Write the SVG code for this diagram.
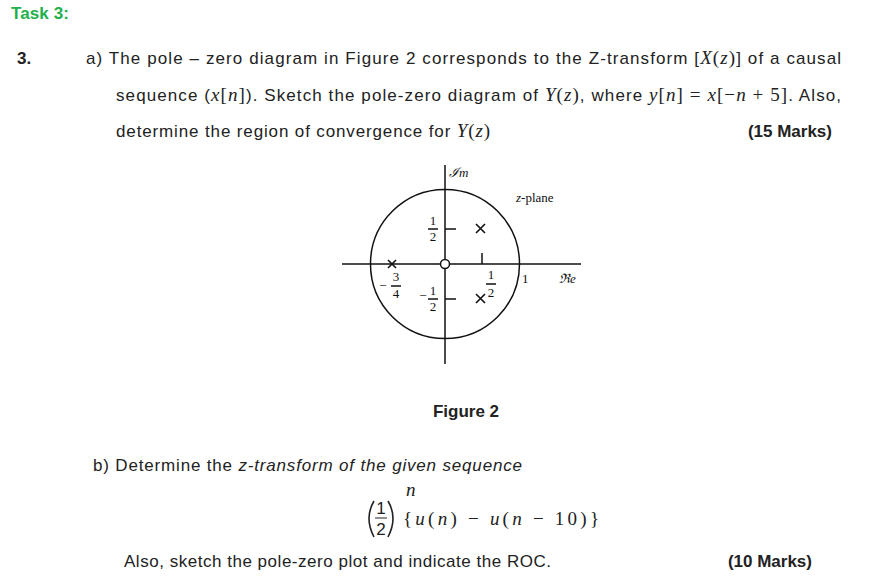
<svg xmlns="http://www.w3.org/2000/svg" width="884" height="586" viewBox="0 0 884 586">
<style>
.t{font-family:"Liberation Sans",Arial,sans-serif;font-size:17px;fill:#222}
.b{font-weight:bold}
.m{font-family:"Liberation Serif","Times New Roman",serif;font-size:19px;fill:#222}
.f{font-family:"Liberation Serif","Times New Roman",serif;font-size:13px;fill:#111}
.ln{stroke:#111;stroke-width:1.5;fill:none}
</style>
<rect width="884" height="586" fill="#fff"/>
<text x="11" y="19" class="t b" style="fill:#22b04c" textLength="58" lengthAdjust="spacing">Task 3:</text>
<text x="17" y="64" class="t b">3.</text>
<g id="text-a">
<text x="86" y="64" class="t" textLength="755" lengthAdjust="spacing">a)  The pole – zero diagram in Figure 2 corresponds to the Z-transform [<tspan class="m" font-style="italic">X</tspan><tspan class="m">(</tspan><tspan class="m" font-style="italic">z</tspan><tspan class="m">)</tspan>] of a causal</text>
<text x="116" y="101" class="t" textLength="725" lengthAdjust="spacing">sequence (<tspan class="m" font-style="italic">x</tspan><tspan class="m">[</tspan><tspan class="m" font-style="italic">n</tspan><tspan class="m">]</tspan>). Sketch the pole-zero diagram of <tspan class="m" font-style="italic">Y</tspan><tspan class="m">(</tspan><tspan class="m" font-style="italic">z</tspan><tspan class="m">)</tspan>, where <tspan class="m" font-style="italic">y</tspan><tspan class="m">[</tspan><tspan class="m" font-style="italic">n</tspan><tspan class="m">] = </tspan><tspan class="m" font-style="italic">x</tspan><tspan class="m">[−</tspan><tspan class="m" font-style="italic">n</tspan><tspan class="m"> + 5]</tspan>. Also,</text>
<text x="116" y="137" class="t" textLength="374" lengthAdjust="spacing">determine the region of convergence for <tspan class="m" font-style="italic">Y</tspan><tspan class="m">(</tspan><tspan class="m" font-style="italic">z</tspan><tspan class="m">)</tspan></text>
<text x="832" y="137" class="t b" text-anchor="end">(15 Marks)</text>
</g>
<g id="figure">
<line class="ln" x1="342" y1="264" x2="581" y2="264"/>
<line class="ln" x1="445" y1="165" x2="445" y2="364"/>
<circle class="ln" cx="445" cy="264" r="74.5"/>
<line class="ln" x1="445" y1="229" x2="456" y2="229"/>
<line class="ln" x1="445" y1="299" x2="456" y2="299"/>
<line class="ln" x1="482" y1="253" x2="482" y2="264"/>
<circle cx="445" cy="264" r="4.5" fill="#fff" stroke="#111" stroke-width="1.5"/>
<g stroke="#111" stroke-width="1.6">
<path d="M476 224l9 9M485 224l-9 9"/>
<path d="M476 294l9 9M485 294l-9 9"/>
<path d="M388 260l8 8M396 260l-8 8"/>
</g>
<text x="449" y="177" class="f" font-style="italic" font-size="16">ℐm</text>
<text x="516" y="202" class="f" font-size="16"><tspan font-style="italic">z</tspan>-plane</text>
<text x="559" y="283" class="f" font-style="italic" font-size="16">ℜe</text>
<text x="522" y="283" class="f" font-size="15">1</text>
<g class="f" text-anchor="middle">
<text x="433" y="225">1</text><line class="ln" stroke-width="1" x1="428" y1="229" x2="438" y2="229"/><text x="433" y="241">2</text>
<text x="433" y="295">1</text><line class="ln" stroke-width="1" x1="428" y1="299" x2="438" y2="299"/><text x="433" y="311">2</text>
<text x="423" y="300">−</text>
<text x="396" y="281">3</text><line class="ln" stroke-width="1" x1="391" y1="286" x2="401" y2="286"/><text x="396" y="298">4</text>
<text x="383" y="290">−</text>
<text x="491" y="279">1</text><line class="ln" stroke-width="1" x1="486" y1="284" x2="496" y2="284"/><text x="491" y="297">2</text>
</g>
</g>
<text x="466" y="417" class="t b" text-anchor="middle">Figure 2</text>
<g id="text-b">
<text x="93" y="471" class="t" textLength="429" lengthAdjust="spacing">b)  Determine the <tspan font-style="italic">z-transform of the given sequence</tspan></text>
<path d="M374 501Q364 518 374 537" stroke="#222" stroke-width="1.6" fill="none"/>
<path d="M388 501Q398 518 388 537" stroke="#222" stroke-width="1.6" fill="none"/>
<text x="381" y="514" class="t" text-anchor="middle">1</text>
<line x1="375" y1="518" x2="387" y2="518" stroke="#222" stroke-width="1"/>
<text x="381" y="535" class="t" text-anchor="middle">2</text>
<text x="406" y="496" class="m" font-style="italic" font-size="14">n</text>
<text x="403" y="525" class="m" textLength="196" lengthAdjust="spacing">{<tspan font-style="italic">u</tspan>(<tspan font-style="italic">n</tspan>) − <tspan font-style="italic">u</tspan>(<tspan font-style="italic">n</tspan> − 10)}</text>
<text x="124" y="567" class="t" textLength="427" lengthAdjust="spacing">Also, sketch the pole-zero plot and indicate the ROC.</text>
<text x="812" y="567" class="t b" text-anchor="end">(10 Marks)</text>
</g>
</svg>
